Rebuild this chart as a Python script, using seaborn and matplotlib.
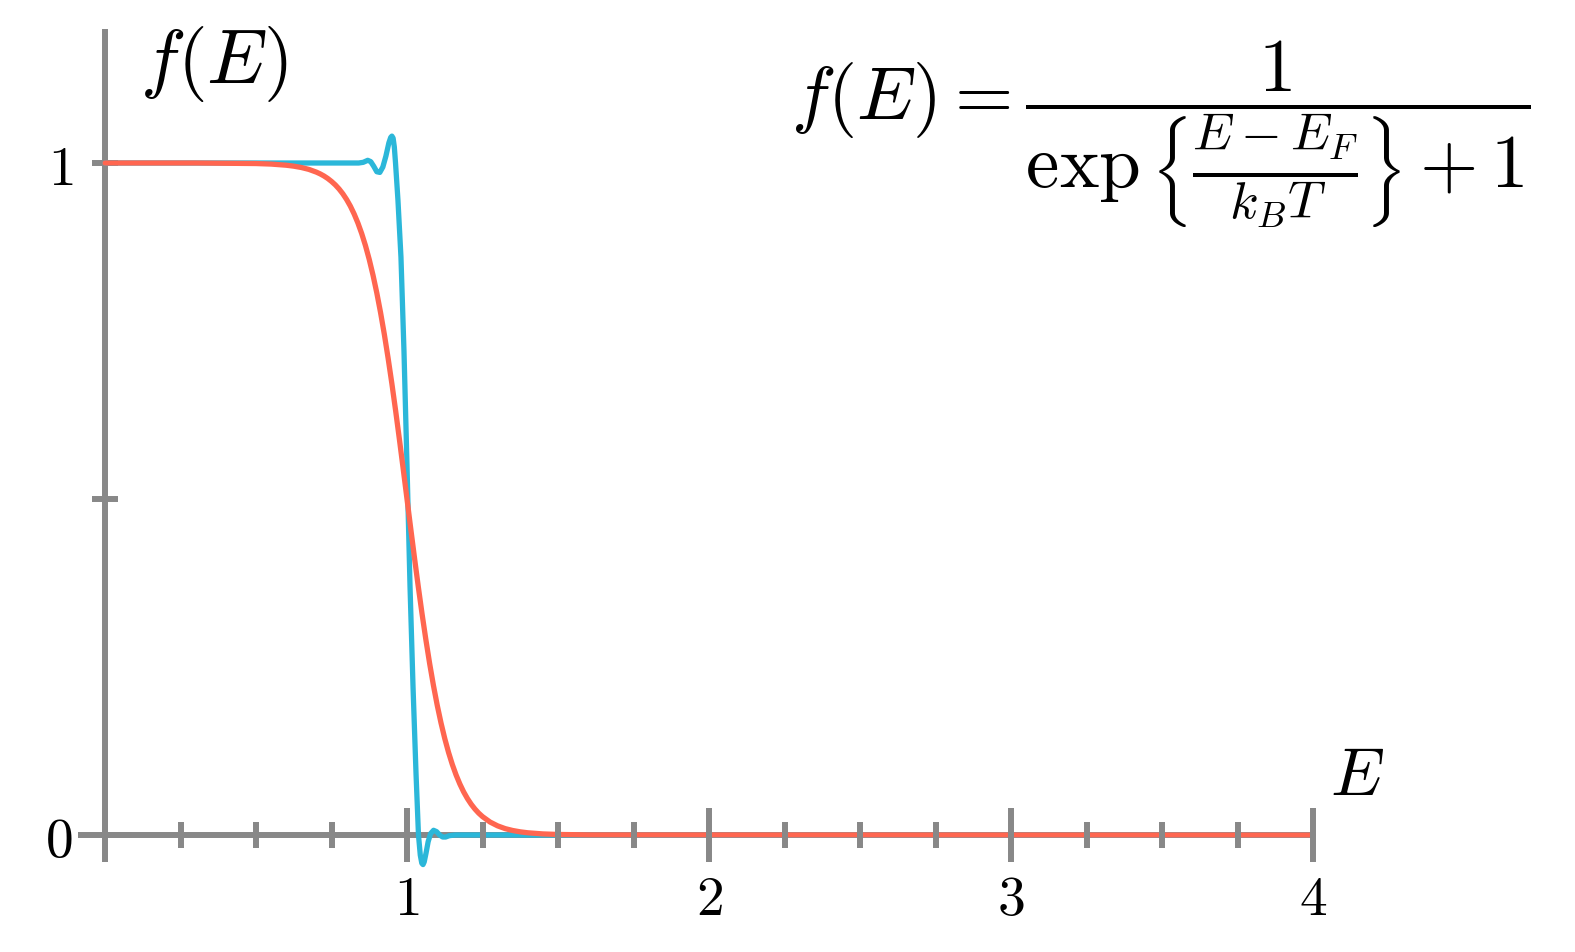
import matplotlib
matplotlib.use('Agg')
import matplotlib.pyplot as plt
from matplotlib.ticker import FixedLocator, FixedFormatter, MultipleLocator
import seaborn as sns

# red curve: smooth Fermi-Dirac occupation
fermi_E = [0.0, 0.3, 0.5, 0.55, 0.6, 0.625, 0.65, 0.675,
           0.7, 0.7125, 0.725, 0.7375, 0.75, 0.7625, 0.775, 0.7875, 0.8, 0.8125,
           0.825, 0.8375, 0.85, 0.8625, 0.875, 0.8875, 0.9, 0.9125, 0.925, 0.9375,
           0.95, 0.9625, 0.975, 0.9875, 1.0, 1.0125, 1.025, 1.0375, 1.05, 1.0625,
           1.075, 1.0875, 1.1, 1.1125, 1.125, 1.1375, 1.15, 1.1625, 1.175, 1.1875,
           1.2, 1.2125, 1.225, 1.2375, 1.25, 1.275, 1.3, 1.325, 1.35, 1.375,
           1.4, 1.45, 1.5, 1.6, 4.0]
fermi_f = [1.0, 1.0, 0.9992, 0.9984, 0.9967, 0.9953, 0.9933, 0.9905,
           0.9864, 0.9838, 0.9807, 0.9770, 0.9726, 0.9675, 0.9614, 0.9542, 0.9457, 0.9358,
           0.9241, 0.9106, 0.8950, 0.8770, 0.8564, 0.8330, 0.8067, 0.7773, 0.7449, 0.7094,
           0.6714, 0.6309, 0.5883, 0.5445, 0.5, 0.4555, 0.4117, 0.3691, 0.3286, 0.2906,
           0.2551, 0.2227, 0.1933, 0.1670, 0.1436, 0.1230, 0.1050, 0.0894, 0.0759, 0.0642,
           0.0543, 0.0458, 0.0386, 0.0325, 0.0274, 0.0193, 0.0136, 0.0095, 0.0067, 0.0047,
           0.0033, 0.0016, 0.0008, 0.0002, 0.0]

# blue curve: sharp step with ringing on both sides
step_E = [0.0, 0.8, 0.84, 0.855, 0.87, 0.88, 0.89, 0.9, 0.91, 0.92,
          0.93, 0.94, 0.946, 0.95, 0.954, 0.958, 0.962, 0.97, 0.98, 0.99,
          1.0, 1.01, 1.02, 1.03, 1.038, 1.044, 1.049, 1.053, 1.057, 1.063,
          1.07, 1.078, 1.088, 1.098, 1.108, 1.118, 1.128, 1.14, 1.16, 4.0]
step_f = [1.0, 1.0, 1.0, 1.001, 1.004, 1.002, 0.995, 0.987, 0.986, 0.994,
          1.01, 1.03, 1.038, 1.04, 1.037, 1.024, 1.0, 0.945, 0.86, 0.72,
          0.55, 0.37, 0.22, 0.09, 0.0, -0.03, -0.042, -0.044, -0.04, -0.027,
          -0.01, 0.002, 0.007, 0.005, 0.0, -0.003, -0.003, -0.001, 0.0, 0.0]

x_major = [0, 1, 2, 3, 4]
x_labels = ['', '$1$', '$2$', '$3$', '$4$']

GRAY = '#888888'
RED = '#ff6650'
BLUE = '#2bb7d9'

sns.set_theme(style='white')
plt.rcParams['mathtext.fontset'] = 'cm'
plt.rcParams['font.family'] = ['DejaVu Serif']

fig = plt.figure(figsize=(15.75, 9.53), dpi=100)
ax = fig.add_axes([105/1575, 1-836/953, 1208/1575, (836-29.6)/953])

sns.lineplot(x=step_E, y=step_f, ax=ax, color=BLUE, linewidth=3.8, clip_on=False, zorder=2.6)
sns.lineplot(x=fermi_E, y=fermi_f, ax=ax, color=RED, linewidth=3.8, clip_on=False, zorder=2.7)

ax.set_xlim(0, 4)
ax.set_ylim(0, 1.2)
for side in ['top', 'right']:
    ax.spines[side].set_visible(False)
for side in ['left', 'bottom']:
    ax.spines[side].set_color(GRAY)
    ax.spines[side].set_linewidth(4.3)
    ax.spines[side].set_zorder(2.5)
    ax.spines[side].set_capstyle('butt')

ax.xaxis.set_major_locator(FixedLocator(x_major))
ax.xaxis.set_major_formatter(FixedFormatter(x_labels))
ax.xaxis.set_minor_locator(MultipleLocator(0.25))
ax.yaxis.set_major_locator(FixedLocator([0]))
ax.yaxis.set_major_formatter(FixedFormatter(['$0$']))
ax.yaxis.set_minor_locator(FixedLocator([0.5, 1]))
ax.yaxis.set_minor_formatter(FixedFormatter(['', '$1$']))

ax.tick_params(bottom=True, left=True, which='both')
ax.tick_params(axis='x', which='major', direction='inout', length=38.9, width=4.3,
               color=GRAY, pad=7, labelsize=40, labelcolor='black')
ax.tick_params(axis='x', which='minor', direction='inout', length=18.7, width=4.3, color=GRAY)
ax.tick_params(axis='y', which='major', direction='inout', length=38.9, width=4.3,
               color=GRAY, pad=4.3, labelsize=40, labelcolor='black')
ax.tick_params(axis='y', which='minor', direction='inout', length=18.7, width=4.3,
               color=GRAY, pad=13.7, labelsize=40, labelcolor='black')
ax.xaxis.set_zorder(3)
ax.yaxis.set_zorder(0.5)
ax.set_xlabel('')
ax.set_ylabel('')

fig.text(214/1575, 1-64/953, r'$f(E)$', ha='center', va='center', fontsize=55, color='black')
fig.text(1357/1575, 1-776/953, r'$E$', ha='center', va='center', fontsize=49, color='black')
fig.text(1530/1575, 1-134/953,
         r'$f(E) = \dfrac{1}{\exp\left\{\frac{E-E_F}{k_BT}\right\}+1}$',
         ha='right', va='center', fontsize=54, color='black')

fig.savefig('out.png', dpi=100, facecolor='white')
